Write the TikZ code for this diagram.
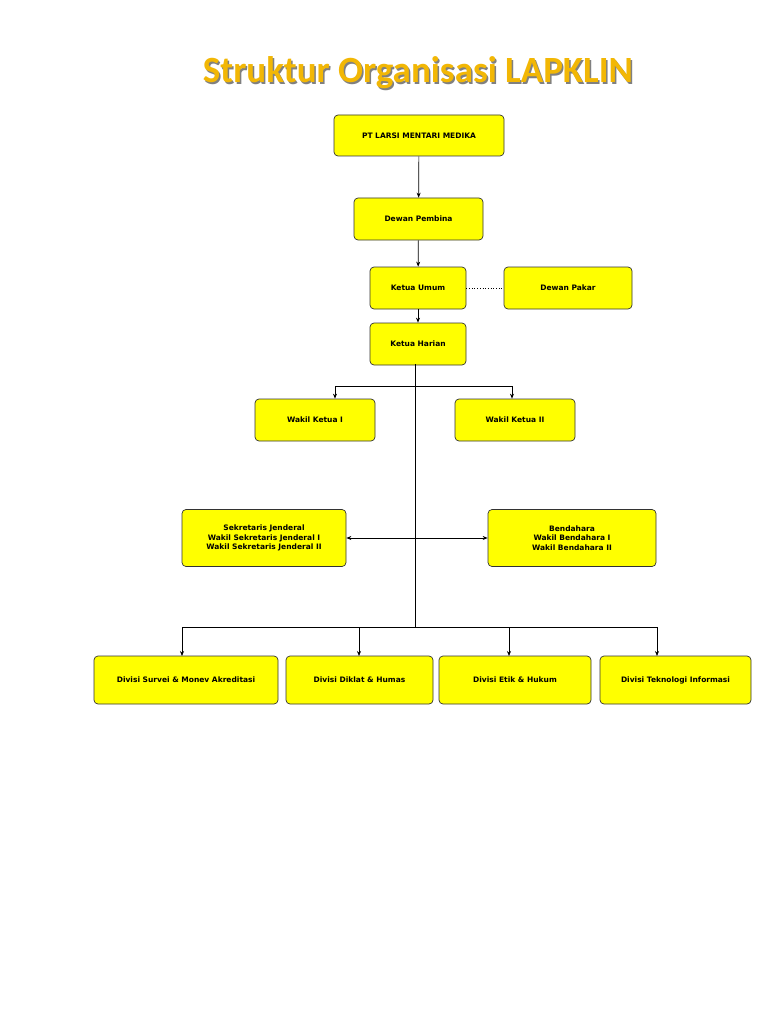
\documentclass[tikz,border=0pt]{standalone}
\usepackage{fontspec}
\setmainfont{DejaVu Sans}
\newfontfamily\titlefont{Carlito}
\usetikzlibrary{arrows.meta}
\definecolor{boxy}{HTML}{FFFF00}
\definecolor{titleor}{HTML}{F2B705}
\begin{document}
\begin{tikzpicture}[x=1pt,y=-1pt,
  box/.style={draw=black!80,fill=boxy,rounded corners=4pt,line width=0.7pt,font=\bfseries\fontsize{7.5}{9.5}\selectfont,align=center,inner sep=0pt},
  conn/.style={draw,line width=0.7pt,-{Stealth[length=5pt,width=4pt]}}]
\useasboundingbox (0,0) rectangle (768,1024);
\node[font=\titlefont\bfseries\fontsize{37}{40}\selectfont,text=black!50] (ts) at (419.5,74.5) {Struktur Organisasi LAPKLIN};
\node[font=\titlefont\bfseries\fontsize{37}{40}\selectfont,text=titleor] (t) at (418,73) {Struktur Organisasi LAPKLIN};
\node[box,minimum width=170,minimum height=41] (pt) at (419,135.5) {PT LARSI MENTARI MEDIKA};
\node[box,minimum width=129,minimum height=42] (dp) at (418.5,219) {Dewan Pembina};
\node[box,minimum width=96,minimum height=42] (ku) at (418,288) {Ketua Umum};
\node[box,minimum width=128,minimum height=42] (dk) at (568,288) {Dewan Pakar};
\node[box,minimum width=96,minimum height=42] (kh) at (418,344) {Ketua Harian};
\node[box,minimum width=120,minimum height=42] (w1) at (315,420) {Wakil Ketua I};
\node[box,minimum width=120,minimum height=42] (w2) at (515,420) {Wakil Ketua II};
\node[box,minimum width=164,minimum height=57] (sk) at (264,538) {Sekretaris Jenderal\\Wakil Sekretaris Jenderal I\\Wakil Sekretaris Jenderal II};
\node[box,minimum width=168,minimum height=57] (bd) at (572,538) {Bendahara\\Wakil Bendahara I\\Wakil Bendahara II};
\node[box,minimum width=184,minimum height=48] (d1) at (186,680) {Divisi Survei \& Monev Akreditasi};
\node[box,minimum width=147,minimum height=48] (d2) at (359.5,680) {Divisi Diklat \& Humas};
\node[box,minimum width=152,minimum height=48] (d3) at (515,680) {Divisi Etik \& Hukum};
\node[box,minimum width=151,minimum height=48] (d4) at (675.5,680) {Divisi Teknologi Informasi};
\coordinate (tr) at (415,364);
\coordinate (b1) at (415,386);
\coordinate (m) at (415,538);
\coordinate (b2) at (415,627);
\draw[conn] (pt) -- (dp);
\draw[conn] (dp) -- (ku);
\draw[conn] (ku) -- (kh);
\draw[line width=0.7pt,dotted] (ku) -- (dk);
\draw[line width=0.8pt] (tr) -- (b2);
\draw[conn] (b1) -| (w1.north -| 335,0);
\draw[conn] (b1) -| (w2.north -| 512,0);
\draw[conn] (m) -- (sk);
\draw[conn] (m) -- (bd);
\draw[conn] (b2) -| (182,656);
\draw[conn] (b2) -| (359,656);
\draw[conn] (b2) -| (509,656);
\draw[conn] (b2) -| (657,656);
\end{tikzpicture}
\end{document}
